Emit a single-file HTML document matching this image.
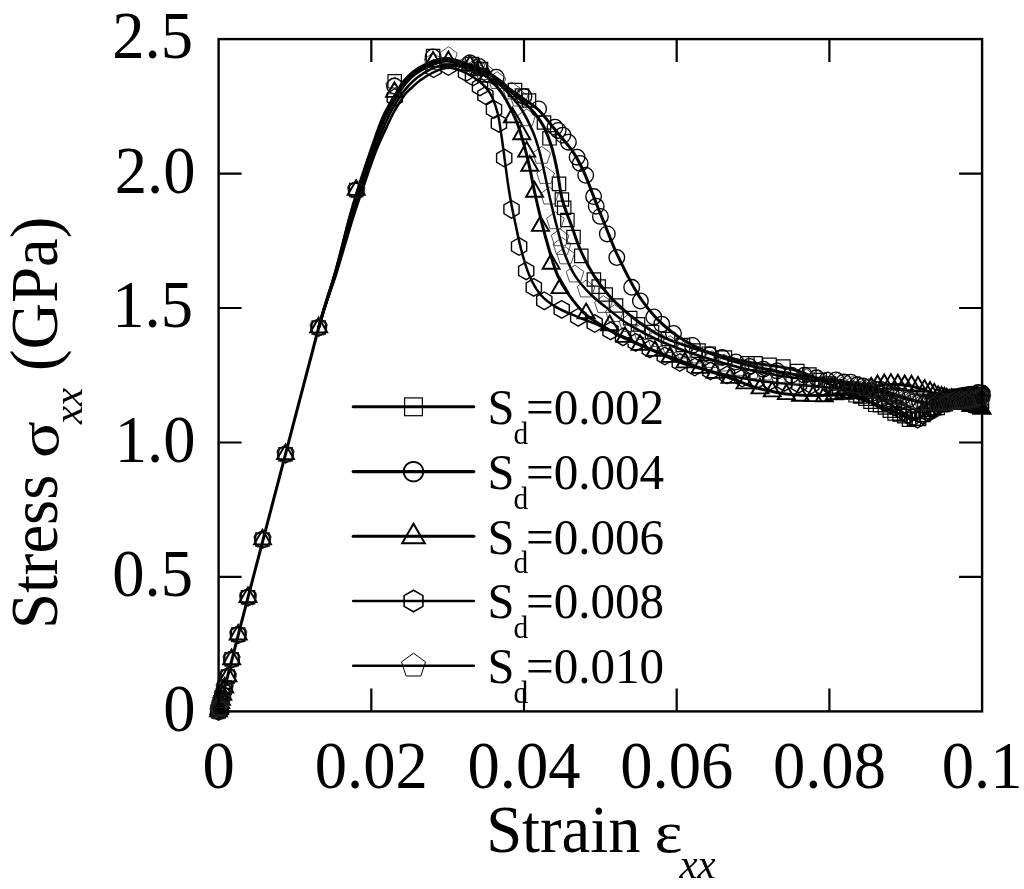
<!DOCTYPE html>
<html><head><meta charset="utf-8"><title>Stress-strain</title>
<style>
html,body{margin:0;padding:0;background:#fff;}
svg{display:block;}
text{font-family:"Liberation Serif","DejaVu Serif",serif;fill:#000;}
.it{font-style:italic;}
</style></head><body>
<svg width="1024" height="889" viewBox="0 0 1024 889">
<rect x="0" y="0" width="1024" height="889" fill="#fff"/>
<path d="M218.6 711.4C223.5 692.4 236.8 640.3 248.0 597.4C259.1 554.5 273.7 499.2 285.5 454.2C297.3 409.2 310.4 357.7 318.7 327.5C327.0 297.3 330.1 291.1 335.2 273.0C340.3 254.9 345.4 232.8 349.2 218.8C353.0 204.8 354.4 200.5 358.0 189.0C361.6 177.5 367.2 161.1 371.0 150.0C374.8 138.9 378.2 129.0 380.7 122.5C383.2 116.0 383.4 115.8 385.8 111.2C388.2 106.7 392.0 100.0 395.0 95.0C398.0 90.0 400.6 85.3 403.6 81.5C406.6 77.7 409.1 75.1 412.9 72.2C416.6 69.3 421.7 66.3 426.1 64.2C430.5 62.1 435.7 60.3 439.3 59.4C442.9 58.5 443.9 58.2 448.0 58.7C452.1 59.2 458.5 60.9 463.8 62.6C469.1 64.3 475.3 66.8 480.0 69.0C484.7 71.2 488.4 73.6 492.0 76.0C495.6 78.4 498.5 81.0 501.5 83.5C504.5 86.0 506.2 87.8 510.0 91.0C513.8 94.2 520.0 98.9 524.0 102.5C528.0 106.1 530.7 108.4 534.0 112.5C537.3 116.6 541.0 121.3 544.0 127.2C547.0 133.1 549.6 140.2 551.9 147.7C554.1 155.2 555.8 163.3 557.5 172.0C559.2 180.7 560.0 190.9 562.4 200.0C564.8 209.1 568.8 218.1 571.9 226.8C575.0 235.5 577.6 243.9 581.3 252.0C585.0 260.1 589.4 268.5 593.9 275.6C598.4 282.7 603.1 288.7 608.1 294.5C613.1 300.3 617.9 304.9 623.9 310.2C629.9 315.4 637.4 321.4 644.3 326.0C651.1 330.6 657.4 334.5 665.0 338.0C672.6 341.5 680.8 344.1 690.0 347.0C699.2 349.9 710.0 352.9 720.0 355.5C730.0 358.1 740.8 360.8 750.0 362.5C759.2 364.2 767.5 364.8 775.0 366.0C782.5 367.2 788.3 368.0 795.0 370.0C801.7 372.0 808.3 375.2 815.0 378.0C821.7 380.8 829.2 384.0 835.0 386.5C840.8 389.0 842.5 389.8 850.0 393.0C857.5 396.2 871.7 402.4 880.0 406.0C888.3 409.6 894.2 412.2 900.0 414.5C905.8 416.8 910.0 420.1 915.0 419.5C920.0 418.9 925.0 413.6 930.0 411.0C935.0 408.4 940.8 405.7 945.0 404.0C949.2 402.3 951.2 401.6 955.0 401.0C958.8 400.4 963.5 400.3 968.0 400.5C972.5 400.7 979.7 401.8 982.0 402.0" fill="none" stroke="#000" stroke-width="3.0" stroke-linejoin="round" stroke-linecap="round"/>
<path d="M218.0 680.9h13.4v13.4h-13.4zM216.1 688.3h13.4v13.4h-13.4zM214.9 693.2h13.4v13.4h-13.4zM214.0 696.5h13.4v13.4h-13.4zM213.4 698.7h13.4v13.4h-13.4zM213.1 700.2h13.4v13.4h-13.4zM212.8 701.2h13.4v13.4h-13.4zM212.6 701.8h13.4v13.4h-13.4zM212.5 702.2h13.4v13.4h-13.4zM212.5 702.5h13.4v13.4h-13.4zM211.9 704.7h13.4v13.4h-13.4zM221.2 669.8h13.4v13.4h-13.4zM224.9 652.6h13.4v13.4h-13.4zM231.5 627.9h13.4v13.4h-13.4zM241.3 590.5h13.4v13.4h-13.4zM255.8 532.8h13.4v13.4h-13.4zM278.8 447.5h13.4v13.4h-13.4zM312.0 320.8h13.4v13.4h-13.4zM349.5 183.3h13.4v13.4h-13.4zM388.0 74.6h13.4v13.4h-13.4zM426.4 49.3h13.4v13.4h-13.4zM465.3 57.3h13.4v13.4h-13.4zM474.3 62.3h13.4v13.4h-13.4zM508.3 83.3h13.4v13.4h-13.4zM515.3 88.8h13.4v13.4h-13.4zM522.3 93.8h13.4v13.4h-13.4zM537.3 115.8h13.4v13.4h-13.4zM542.8 131.6h13.4v13.4h-13.4zM552.3 177.2h13.4v13.4h-13.4zM555.2 192.8h13.4v13.4h-13.4zM557.5 201.1h13.4v13.4h-13.4zM560.7 213.3h13.4v13.4h-13.4zM566.8 230.3h13.4v13.4h-13.4zM574.6 249.2h13.4v13.4h-13.4zM587.2 272.8h13.4v13.4h-13.4zM592.0 279.9h13.4v13.4h-13.4zM599.0 287.8h13.4v13.4h-13.4zM609.3 298.8h13.4v13.4h-13.4zM623.5 311.4h13.4v13.4h-13.4zM631.3 317.7h13.4v13.4h-13.4zM645.3 325.3h13.4v13.4h-13.4zM661.3 332.3h13.4v13.4h-13.4zM676.3 338.3h13.4v13.4h-13.4zM691.8 343.9h13.4v13.4h-13.4zM702.0 347.0h13.4v13.4h-13.4zM718.2 350.8h13.4v13.4h-13.4zM740.7 356.7h13.4v13.4h-13.4zM748.7 356.7h13.4v13.4h-13.4zM762.8 358.1h13.4v13.4h-13.4zM776.7 359.8h13.4v13.4h-13.4zM790.6 364.4h13.4v13.4h-13.4zM802.7 367.9h13.4v13.4h-13.4zM813.1 373.4h13.4v13.4h-13.4zM822.2 376.8h13.4v13.4h-13.4zM830.3 379.6h13.4v13.4h-13.4zM837.2 383.7h13.4v13.4h-13.4zM843.3 385.2h13.4v13.4h-13.4zM848.9 388.6h13.4v13.4h-13.4zM853.7 389.8h13.4v13.4h-13.4zM858.8 392.0h13.4v13.4h-13.4zM863.8 395.0h13.4v13.4h-13.4zM868.6 398.1h13.4v13.4h-13.4zM873.3 398.4h13.4v13.4h-13.4zM878.2 400.8h13.4v13.4h-13.4zM883.1 403.9h13.4v13.4h-13.4zM887.9 406.7h13.4v13.4h-13.4zM892.9 407.8h13.4v13.4h-13.4zM897.5 409.4h13.4v13.4h-13.4zM902.3 413.0h13.4v13.4h-13.4zM907.3 411.8h13.4v13.4h-13.4zM912.3 412.3h13.4v13.4h-13.4zM916.7 408.2h13.4v13.4h-13.4zM920.7 405.0h13.4v13.4h-13.4zM924.2 402.9h13.4v13.4h-13.4zM927.5 401.7h13.4v13.4h-13.4zM930.9 401.3h13.4v13.4h-13.4zM933.7 398.5h13.4v13.4h-13.4zM936.3 398.3h13.4v13.4h-13.4zM938.9 397.4h13.4v13.4h-13.4zM941.1 395.9h13.4v13.4h-13.4zM943.4 395.5h13.4v13.4h-13.4zM945.7 393.7h13.4v13.4h-13.4zM948.3 393.2h13.4v13.4h-13.4zM950.6 393.3h13.4v13.4h-13.4zM953.0 394.3h13.4v13.4h-13.4zM955.6 393.6h13.4v13.4h-13.4zM958.2 393.3h13.4v13.4h-13.4zM960.8 394.0h13.4v13.4h-13.4zM963.4 393.8h13.4v13.4h-13.4zM965.6 393.6h13.4v13.4h-13.4zM968.0 395.1h13.4v13.4h-13.4zM970.2 395.1h13.4v13.4h-13.4zM972.8 394.4h13.4v13.4h-13.4zM975.0 395.4h13.4v13.4h-13.4zM975.3 395.3h13.4v13.4h-13.4z" fill="none" stroke="#000" stroke-width="1.2" stroke-linejoin="miter"/>
<path d="M318.7 327.5C327.0 297.3 330.2 291.1 335.3 273.0C340.5 254.9 345.7 232.8 349.6 218.8C353.4 204.8 354.8 200.5 358.5 189.0C362.1 177.5 367.7 161.1 371.5 150.0C375.4 138.9 379.0 129.0 381.5 122.5C384.0 116.0 384.3 115.8 386.7 111.2C389.1 106.7 393.0 99.9 395.9 95.0C398.9 90.1 401.5 85.8 404.4 82.1C407.4 78.4 409.9 75.9 413.6 73.0C417.3 70.2 422.3 67.2 426.7 65.1C431.0 63.0 436.1 61.2 439.7 60.3C443.3 59.4 444.3 59.1 448.4 59.6C452.5 60.2 459.2 62.0 464.5 63.5C469.8 65.0 475.4 66.6 480.0 68.5C484.6 70.4 488.4 72.8 492.0 75.0C495.6 77.2 498.6 79.6 501.6 82.0C504.6 84.4 506.3 86.5 510.2 89.5C514.1 92.5 520.5 96.6 525.2 100.0C529.9 103.4 533.1 104.4 538.6 110.0C544.1 115.6 552.6 126.7 558.2 133.5C563.8 140.3 568.2 144.7 572.4 150.9C576.6 157.1 580.2 164.1 583.4 170.8C586.6 177.5 589.0 184.6 591.5 191.0C594.0 197.4 596.0 202.7 598.5 209.0C601.0 215.3 603.6 221.6 606.5 228.8C609.4 236.0 612.3 243.9 616.0 252.0C619.7 260.1 624.6 270.0 628.6 277.6C632.6 285.2 635.9 291.3 640.0 297.5C644.1 303.7 649.5 310.3 653.5 315.0C657.5 319.7 659.9 321.9 664.0 325.5C668.1 329.1 672.8 333.0 678.0 336.5C683.2 340.0 689.1 343.4 695.4 346.6C701.7 349.8 707.3 352.5 716.0 355.6C724.7 358.7 736.8 362.3 747.5 365.0C758.2 367.7 769.6 370.0 780.0 372.0C790.4 374.0 800.0 375.4 810.0 377.0C820.0 378.6 830.0 379.8 840.0 381.5C850.0 383.2 860.0 384.6 870.0 387.0C880.0 389.4 890.8 393.3 900.0 396.0C909.2 398.7 917.5 402.4 925.0 403.0C932.5 403.6 938.3 400.7 945.0 399.5C951.7 398.3 958.8 397.1 965.0 396.0C971.2 394.9 979.2 393.5 982.0 393.0" fill="none" stroke="#000" stroke-width="3.0" stroke-linejoin="round" stroke-linecap="round"/>
<path d="M216.9 687.6a7.8 7.8 0 1 0 15.6 0a7.8 7.8 0 1 0 -15.6 0zM215.0 695.0a7.8 7.8 0 1 0 15.6 0a7.8 7.8 0 1 0 -15.6 0zM213.8 699.9a7.8 7.8 0 1 0 15.6 0a7.8 7.8 0 1 0 -15.6 0zM212.9 703.2a7.8 7.8 0 1 0 15.6 0a7.8 7.8 0 1 0 -15.6 0zM212.3 705.4a7.8 7.8 0 1 0 15.6 0a7.8 7.8 0 1 0 -15.6 0zM212.0 706.9a7.8 7.8 0 1 0 15.6 0a7.8 7.8 0 1 0 -15.6 0zM211.7 707.9a7.8 7.8 0 1 0 15.6 0a7.8 7.8 0 1 0 -15.6 0zM211.5 708.5a7.8 7.8 0 1 0 15.6 0a7.8 7.8 0 1 0 -15.6 0zM211.4 708.9a7.8 7.8 0 1 0 15.6 0a7.8 7.8 0 1 0 -15.6 0zM211.4 709.2a7.8 7.8 0 1 0 15.6 0a7.8 7.8 0 1 0 -15.6 0zM210.8 711.4a7.8 7.8 0 1 0 15.6 0a7.8 7.8 0 1 0 -15.6 0zM220.1 676.5a7.8 7.8 0 1 0 15.6 0a7.8 7.8 0 1 0 -15.6 0zM223.8 659.3a7.8 7.8 0 1 0 15.6 0a7.8 7.8 0 1 0 -15.6 0zM230.4 634.6a7.8 7.8 0 1 0 15.6 0a7.8 7.8 0 1 0 -15.6 0zM240.2 597.2a7.8 7.8 0 1 0 15.6 0a7.8 7.8 0 1 0 -15.6 0zM254.7 539.5a7.8 7.8 0 1 0 15.6 0a7.8 7.8 0 1 0 -15.6 0zM277.7 454.2a7.8 7.8 0 1 0 15.6 0a7.8 7.8 0 1 0 -15.6 0zM310.9 327.5a7.8 7.8 0 1 0 15.6 0a7.8 7.8 0 1 0 -15.6 0zM348.4 190.0a7.8 7.8 0 1 0 15.6 0a7.8 7.8 0 1 0 -15.6 0zM386.7 86.0a7.8 7.8 0 1 0 15.6 0a7.8 7.8 0 1 0 -15.6 0zM425.3 57.0a7.8 7.8 0 1 0 15.6 0a7.8 7.8 0 1 0 -15.6 0zM462.2 63.0a7.8 7.8 0 1 0 15.6 0a7.8 7.8 0 1 0 -15.6 0zM471.2 66.5a7.8 7.8 0 1 0 15.6 0a7.8 7.8 0 1 0 -15.6 0zM488.4 77.2a7.8 7.8 0 1 0 15.6 0a7.8 7.8 0 1 0 -15.6 0zM516.2 96.5a7.8 7.8 0 1 0 15.6 0a7.8 7.8 0 1 0 -15.6 0zM530.8 108.9a7.8 7.8 0 1 0 15.6 0a7.8 7.8 0 1 0 -15.6 0zM547.2 127.2a7.8 7.8 0 1 0 15.6 0a7.8 7.8 0 1 0 -15.6 0zM550.4 130.4a7.8 7.8 0 1 0 15.6 0a7.8 7.8 0 1 0 -15.6 0zM555.1 135.1a7.8 7.8 0 1 0 15.6 0a7.8 7.8 0 1 0 -15.6 0zM560.6 142.2a7.8 7.8 0 1 0 15.6 0a7.8 7.8 0 1 0 -15.6 0zM569.3 157.2a7.8 7.8 0 1 0 15.6 0a7.8 7.8 0 1 0 -15.6 0zM572.4 163.5a7.8 7.8 0 1 0 15.6 0a7.8 7.8 0 1 0 -15.6 0zM577.9 175.3a7.8 7.8 0 1 0 15.6 0a7.8 7.8 0 1 0 -15.6 0zM585.8 196.5a7.8 7.8 0 1 0 15.6 0a7.8 7.8 0 1 0 -15.6 0zM588.4 206.2a7.8 7.8 0 1 0 15.6 0a7.8 7.8 0 1 0 -15.6 0zM592.6 216.4a7.8 7.8 0 1 0 15.6 0a7.8 7.8 0 1 0 -15.6 0zM599.5 233.9a7.8 7.8 0 1 0 15.6 0a7.8 7.8 0 1 0 -15.6 0zM609.0 257.5a7.8 7.8 0 1 0 15.6 0a7.8 7.8 0 1 0 -15.6 0zM623.9 287.3a7.8 7.8 0 1 0 15.6 0a7.8 7.8 0 1 0 -15.6 0zM632.6 301.0a7.8 7.8 0 1 0 15.6 0a7.8 7.8 0 1 0 -15.6 0zM646.0 317.0a7.8 7.8 0 1 0 15.6 0a7.8 7.8 0 1 0 -15.6 0zM653.9 324.1a7.8 7.8 0 1 0 15.6 0a7.8 7.8 0 1 0 -15.6 0zM665.7 333.5a7.8 7.8 0 1 0 15.6 0a7.8 7.8 0 1 0 -15.6 0zM684.6 345.4a7.8 7.8 0 1 0 15.6 0a7.8 7.8 0 1 0 -15.6 0zM701.9 354.8a7.8 7.8 0 1 0 15.6 0a7.8 7.8 0 1 0 -15.6 0zM714.2 357.6a7.8 7.8 0 1 0 15.6 0a7.8 7.8 0 1 0 -15.6 0zM728.0 361.9a7.8 7.8 0 1 0 15.6 0a7.8 7.8 0 1 0 -15.6 0zM741.6 366.4a7.8 7.8 0 1 0 15.6 0a7.8 7.8 0 1 0 -15.6 0zM755.5 369.2a7.8 7.8 0 1 0 15.6 0a7.8 7.8 0 1 0 -15.6 0zM769.3 370.9a7.8 7.8 0 1 0 15.6 0a7.8 7.8 0 1 0 -15.6 0zM783.4 375.2a7.8 7.8 0 1 0 15.6 0a7.8 7.8 0 1 0 -15.6 0zM796.7 375.2a7.8 7.8 0 1 0 15.6 0a7.8 7.8 0 1 0 -15.6 0zM808.7 377.8a7.8 7.8 0 1 0 15.6 0a7.8 7.8 0 1 0 -15.6 0zM819.2 380.1a7.8 7.8 0 1 0 15.6 0a7.8 7.8 0 1 0 -15.6 0zM828.2 380.0a7.8 7.8 0 1 0 15.6 0a7.8 7.8 0 1 0 -15.6 0zM836.1 382.1a7.8 7.8 0 1 0 15.6 0a7.8 7.8 0 1 0 -15.6 0zM843.0 382.2a7.8 7.8 0 1 0 15.6 0a7.8 7.8 0 1 0 -15.6 0zM849.4 384.8a7.8 7.8 0 1 0 15.6 0a7.8 7.8 0 1 0 -15.6 0zM855.3 386.1a7.8 7.8 0 1 0 15.6 0a7.8 7.8 0 1 0 -15.6 0zM861.2 386.9a7.8 7.8 0 1 0 15.6 0a7.8 7.8 0 1 0 -15.6 0zM867.1 389.2a7.8 7.8 0 1 0 15.6 0a7.8 7.8 0 1 0 -15.6 0zM872.6 389.4a7.8 7.8 0 1 0 15.6 0a7.8 7.8 0 1 0 -15.6 0zM878.0 392.0a7.8 7.8 0 1 0 15.6 0a7.8 7.8 0 1 0 -15.6 0zM883.4 393.5a7.8 7.8 0 1 0 15.6 0a7.8 7.8 0 1 0 -15.6 0zM889.0 395.2a7.8 7.8 0 1 0 15.6 0a7.8 7.8 0 1 0 -15.6 0zM894.9 396.7a7.8 7.8 0 1 0 15.6 0a7.8 7.8 0 1 0 -15.6 0zM900.6 399.5a7.8 7.8 0 1 0 15.6 0a7.8 7.8 0 1 0 -15.6 0zM906.1 401.6a7.8 7.8 0 1 0 15.6 0a7.8 7.8 0 1 0 -15.6 0zM911.8 402.1a7.8 7.8 0 1 0 15.6 0a7.8 7.8 0 1 0 -15.6 0zM917.2 403.4a7.8 7.8 0 1 0 15.6 0a7.8 7.8 0 1 0 -15.6 0zM922.0 401.9a7.8 7.8 0 1 0 15.6 0a7.8 7.8 0 1 0 -15.6 0zM926.1 402.7a7.8 7.8 0 1 0 15.6 0a7.8 7.8 0 1 0 -15.6 0zM929.9 401.6a7.8 7.8 0 1 0 15.6 0a7.8 7.8 0 1 0 -15.6 0zM933.3 401.6a7.8 7.8 0 1 0 15.6 0a7.8 7.8 0 1 0 -15.6 0zM936.2 400.5a7.8 7.8 0 1 0 15.6 0a7.8 7.8 0 1 0 -15.6 0zM938.7 398.7a7.8 7.8 0 1 0 15.6 0a7.8 7.8 0 1 0 -15.6 0zM941.2 398.5a7.8 7.8 0 1 0 15.6 0a7.8 7.8 0 1 0 -15.6 0zM943.8 398.7a7.8 7.8 0 1 0 15.6 0a7.8 7.8 0 1 0 -15.6 0zM946.4 396.8a7.8 7.8 0 1 0 15.6 0a7.8 7.8 0 1 0 -15.6 0zM948.9 397.4a7.8 7.8 0 1 0 15.6 0a7.8 7.8 0 1 0 -15.6 0zM951.4 396.2a7.8 7.8 0 1 0 15.6 0a7.8 7.8 0 1 0 -15.6 0zM953.9 395.7a7.8 7.8 0 1 0 15.6 0a7.8 7.8 0 1 0 -15.6 0zM956.3 395.1a7.8 7.8 0 1 0 15.6 0a7.8 7.8 0 1 0 -15.6 0zM958.9 396.4a7.8 7.8 0 1 0 15.6 0a7.8 7.8 0 1 0 -15.6 0zM961.2 394.4a7.8 7.8 0 1 0 15.6 0a7.8 7.8 0 1 0 -15.6 0zM963.5 394.3a7.8 7.8 0 1 0 15.6 0a7.8 7.8 0 1 0 -15.6 0zM965.8 394.2a7.8 7.8 0 1 0 15.6 0a7.8 7.8 0 1 0 -15.6 0zM968.0 395.0a7.8 7.8 0 1 0 15.6 0a7.8 7.8 0 1 0 -15.6 0zM970.5 392.6a7.8 7.8 0 1 0 15.6 0a7.8 7.8 0 1 0 -15.6 0zM973.0 393.1a7.8 7.8 0 1 0 15.6 0a7.8 7.8 0 1 0 -15.6 0zM974.2 393.0a7.8 7.8 0 1 0 15.6 0a7.8 7.8 0 1 0 -15.6 0z" fill="none" stroke="#000" stroke-width="1.35" stroke-linejoin="miter"/>
<path d="M318.7 327.5C327.0 297.3 330.3 291.1 335.6 273.0C340.8 254.9 346.2 232.8 350.1 218.8C354.1 204.8 355.6 200.5 359.3 189.0C363.0 177.5 368.5 161.1 372.5 150.0C376.4 138.9 380.3 129.0 382.9 122.5C385.5 116.0 385.7 115.8 388.1 111.2C390.6 106.7 394.6 99.7 397.6 95.0C400.5 90.3 403.0 86.5 405.9 83.1C408.7 79.7 411.2 77.2 414.8 74.4C418.5 71.7 423.4 68.7 427.7 66.6C431.9 64.5 436.7 62.8 440.3 61.9C443.9 61.0 445.1 60.6 449.1 61.2C453.0 61.8 458.3 63.4 464.0 65.5C469.7 67.6 477.1 69.5 483.4 74.0C489.6 78.5 496.1 85.0 501.5 92.6C506.9 100.2 512.0 111.0 515.7 119.4C519.4 127.8 521.1 134.9 523.5 143.0C525.9 151.1 527.9 160.0 529.8 168.2C531.6 176.4 532.6 182.8 534.6 192.0C536.6 201.2 539.5 213.6 542.0 223.6C544.5 233.6 547.2 243.3 549.8 252.0C552.4 260.7 554.6 268.5 557.7 275.6C560.9 282.7 564.2 288.2 568.7 294.5C573.2 300.8 579.2 308.4 584.5 313.4C589.8 318.4 595.0 321.0 600.2 324.4C605.5 327.8 609.4 330.5 616.0 333.9C622.6 337.3 631.0 341.1 640.0 345.0C649.0 348.9 660.0 353.2 670.0 357.0C680.0 360.8 690.0 364.5 700.0 368.0C710.0 371.5 721.0 374.8 730.0 378.0C739.0 381.2 747.3 384.8 754.0 387.0C760.7 389.2 764.7 389.8 770.0 391.0C775.3 392.2 777.7 393.2 786.0 394.0C794.3 394.8 809.3 395.6 820.0 395.5C830.7 395.4 842.0 394.5 850.0 393.5C858.0 392.5 863.0 390.8 868.0 389.5C873.0 388.2 875.5 386.3 880.0 385.5C884.5 384.7 889.8 384.4 895.0 384.5C900.2 384.6 905.2 384.8 911.0 386.0C916.8 387.2 923.5 389.8 930.0 392.0C936.5 394.2 943.7 397.3 950.0 399.5C956.3 401.7 962.7 403.4 968.0 405.0C973.3 406.6 979.7 408.3 982.0 409.0" fill="none" stroke="#000" stroke-width="3.0" stroke-linejoin="round" stroke-linecap="round"/>
<path d="M224.7 677.8L233.2 692.5L216.3 692.5zM222.8 685.2L231.3 699.9L214.3 699.9zM221.6 690.1L230.0 704.8L213.1 704.8zM220.7 693.4L229.2 708.1L212.2 708.1zM220.1 695.6L228.6 710.3L211.7 710.3zM219.8 697.1L228.3 711.8L211.3 711.8zM219.5 698.1L228.0 712.8L211.0 712.8zM219.3 698.7L227.8 713.4L210.9 713.4zM219.2 699.1L227.7 713.8L210.7 713.8zM219.2 699.4L227.6 714.1L210.7 714.1zM218.6 701.6L227.1 716.3L210.1 716.3zM227.9 666.7L236.4 681.4L219.4 681.4zM231.6 649.5L240.1 664.2L223.1 664.2zM238.2 624.8L246.7 639.5L229.7 639.5zM248.0 587.4L256.5 602.1L239.5 602.1zM262.5 529.7L271.0 544.4L254.0 544.4zM285.5 444.4L294.0 459.1L277.0 459.1zM318.7 317.7L327.2 332.4L310.2 332.4zM356.2 180.2L364.7 194.9L347.7 194.9zM394.5 82.2L403.0 96.9L386.0 96.9zM433.1 52.0L441.6 66.7L424.6 66.7zM448.4 51.5L456.9 66.2L439.9 66.2zM470.0 55.7L478.5 70.4L461.5 70.4zM479.0 60.2L487.5 74.9L470.5 74.9zM487.0 67.2L495.5 81.9L478.5 81.9zM512.4 107.7L520.9 122.4L503.9 122.4zM521.8 124.5L530.3 139.2L513.3 139.2zM526.7 141.9L535.2 156.6L518.2 156.6zM529.8 156.0L538.3 170.7L521.3 170.7zM534.6 182.0L543.1 196.7L526.1 196.7zM540.4 216.2L548.9 230.9L531.9 230.9zM551.1 254.0L559.6 268.7L542.6 268.7zM560.1 278.4L568.6 293.1L551.6 293.1zM586.1 303.6L594.6 318.3L577.6 318.3zM609.7 315.6L618.2 330.3L601.2 330.3zM625.0 327.2L633.5 341.9L616.5 341.9zM640.0 335.2L648.5 349.9L631.5 349.9zM655.0 341.2L663.5 355.9L646.5 355.9zM670.0 347.2L678.5 361.9L661.5 361.9zM685.0 352.7L693.5 367.4L676.5 367.4zM700.0 358.2L708.5 372.9L691.5 372.9zM715.0 363.2L723.5 377.9L706.5 377.9zM730.0 368.2L738.5 382.9L721.5 382.9zM745.0 373.7L753.5 388.4L736.5 388.4zM760.0 378.7L768.5 393.4L751.5 393.4zM772.3 381.7L780.8 396.4L763.8 396.4zM786.4 384.4L794.9 399.1L777.9 399.1zM800.5 386.1L809.0 400.8L792.0 400.8zM813.0 386.4L821.4 401.1L804.5 401.1zM824.3 386.5L832.8 401.2L815.8 401.2zM834.4 384.6L842.9 399.3L826.0 399.3zM843.4 384.2L851.9 398.9L835.0 398.9zM851.3 383.2L859.8 397.9L842.8 397.9zM858.1 383.2L866.6 397.9L849.7 397.9zM864.6 381.7L873.1 396.4L856.1 396.4zM871.2 377.8L879.7 392.5L862.7 392.5zM877.5 375.5L886.0 390.2L869.0 390.2zM884.2 374.5L892.7 389.2L875.8 389.2zM890.9 374.1L899.3 388.8L882.4 388.8zM897.9 374.7L906.4 389.4L889.4 389.4zM904.7 375.4L913.2 390.1L896.2 390.1zM911.5 375.7L919.9 390.4L903.0 390.4zM918.0 376.9L926.5 391.6L909.6 391.6zM924.5 380.1L933.0 394.8L916.0 394.8zM930.0 381.9L938.5 396.6L921.5 396.6zM934.3 383.9L942.7 398.6L925.8 398.6zM938.1 386.3L946.6 401.0L929.6 401.0zM941.5 387.0L950.0 401.7L933.0 401.7zM944.4 387.7L952.9 402.4L935.9 402.4zM946.8 388.8L955.3 403.5L938.3 403.5zM949.1 389.8L957.6 404.5L940.6 404.5zM951.5 389.1L960.0 403.8L943.1 403.8zM954.1 392.0L962.6 406.7L945.6 406.7zM956.6 392.5L965.1 407.2L948.1 407.2zM959.1 393.5L967.6 408.2L950.6 408.2zM961.6 394.0L970.1 408.7L953.1 408.7zM963.9 393.8L972.4 408.5L955.5 408.5zM966.2 394.4L974.7 409.1L957.7 409.1zM968.6 394.4L977.0 409.1L960.1 409.1zM970.8 396.3L979.3 411.0L962.3 411.0zM973.1 395.6L981.6 410.3L964.6 410.3zM975.3 396.3L983.8 411.0L966.8 411.0zM977.9 397.3L986.4 412.0L969.4 412.0zM980.1 397.8L988.6 412.5L971.6 412.5zM982.0 399.2L990.5 413.9L973.5 413.9z" fill="none" stroke="#000" stroke-width="1.9" stroke-linejoin="miter"/>
<path d="M318.7 327.5C327.2 297.3 330.8 291.1 336.5 273.0C342.2 254.9 348.3 232.8 352.7 218.8C357.1 204.8 358.8 200.5 362.7 189.0C366.6 177.5 372.0 161.1 376.4 150.0C380.8 138.9 385.8 129.0 388.8 122.5C391.8 116.0 391.8 115.8 394.4 111.2C397.0 106.7 401.6 99.0 404.5 95.0C407.4 91.0 409.4 89.9 412.0 87.5C414.6 85.1 416.7 82.9 420.0 80.5C423.3 78.1 428.2 75.0 432.0 73.0C435.8 71.0 439.7 69.4 443.0 68.6C446.3 67.8 448.2 67.3 452.0 68.0C455.8 68.7 461.3 70.7 466.0 73.0C470.7 75.3 475.9 78.5 480.0 82.0C484.1 85.5 487.6 88.8 490.5 94.0C493.4 99.2 495.9 106.7 497.6 113.0C499.3 119.3 499.7 124.4 500.9 132.0C502.1 139.6 503.4 149.7 504.6 158.7C505.8 167.7 507.1 178.1 508.3 186.0C509.5 193.9 510.4 199.2 511.7 206.0C513.0 212.8 514.4 219.1 516.0 226.6C517.6 234.1 519.3 242.6 521.5 250.8C523.7 259.0 526.2 268.3 529.4 275.6C532.5 282.9 535.9 289.2 540.4 294.5C544.9 299.8 549.8 303.3 556.1 307.1C562.4 310.9 570.9 314.0 578.2 317.1C585.6 320.2 592.6 322.7 600.2 326.0C607.8 329.3 615.6 333.2 623.9 337.0C632.2 340.8 640.6 344.8 650.0 349.0C659.4 353.2 670.0 358.8 680.0 362.5C690.0 366.2 702.2 368.9 710.0 371.0C717.8 373.1 718.7 373.3 727.0 375.0C735.3 376.7 747.8 379.3 760.0 381.0C772.2 382.7 785.0 383.5 800.0 385.0C815.0 386.5 836.7 387.7 850.0 390.0C863.3 392.3 871.7 395.6 880.0 399.0C888.3 402.4 894.2 407.2 900.0 410.5C905.8 413.8 910.8 417.9 915.0 418.5C919.2 419.1 920.8 416.3 925.0 414.0C929.2 411.7 935.0 406.9 940.0 404.5C945.0 402.1 950.0 400.8 955.0 399.5C960.0 398.2 965.5 397.2 970.0 396.5C974.5 395.8 980.0 395.2 982.0 395.0" fill="none" stroke="#000" stroke-width="2.5" stroke-linejoin="round" stroke-linecap="round"/>
<path d="M224.7 678.8L232.4 683.2L232.4 692.0L224.7 696.4L217.1 692.0L217.1 683.2zM222.8 686.2L230.5 690.6L230.5 699.4L222.8 703.8L215.2 699.4L215.2 690.6zM221.6 691.1L229.2 695.5L229.2 704.3L221.6 708.7L213.9 704.3L213.9 695.5zM220.7 694.4L228.3 698.8L228.3 707.6L220.7 712.0L213.1 707.6L213.1 698.8zM220.1 696.6L227.8 701.0L227.8 709.8L220.1 714.2L212.5 709.8L212.5 701.0zM219.8 698.1L227.4 702.5L227.4 711.3L219.8 715.7L212.1 711.3L212.1 702.5zM219.5 699.1L227.1 703.5L227.1 712.3L219.5 716.7L211.9 712.3L211.9 703.5zM219.3 699.7L227.0 704.1L227.0 712.9L219.3 717.3L211.7 712.9L211.7 704.1zM219.2 700.1L226.9 704.5L226.9 713.3L219.2 717.7L211.6 713.3L211.6 704.5zM219.2 700.4L226.8 704.8L226.8 713.6L219.2 718.0L211.5 713.6L211.5 704.8zM218.6 702.6L226.2 707.0L226.2 715.8L218.6 720.2L211.0 715.8L211.0 707.0zM227.9 667.7L235.5 672.1L235.5 680.9L227.9 685.3L220.3 680.9L220.3 672.1zM231.6 650.5L239.2 654.9L239.2 663.7L231.6 668.1L224.0 663.7L224.0 654.9zM238.2 625.8L245.8 630.2L245.8 639.0L238.2 643.4L230.6 639.0L230.6 630.2zM248.0 588.4L255.6 592.8L255.6 601.6L248.0 606.0L240.4 601.6L240.4 592.8zM262.5 530.7L270.1 535.1L270.1 543.9L262.5 548.3L254.9 543.9L254.9 535.1zM285.5 445.4L293.1 449.8L293.1 458.6L285.5 463.0L277.9 458.6L277.9 449.8zM318.7 318.7L326.3 323.1L326.3 331.9L318.7 336.3L311.1 331.9L311.1 323.1zM356.2 181.2L363.8 185.6L363.8 194.4L356.2 198.8L348.6 194.4L348.6 185.6zM394.8 88.7L402.4 93.1L402.4 101.9L394.8 106.3L387.2 101.9L387.2 93.1zM433.6 59.9L441.2 64.3L441.2 73.1L433.6 77.5L426.0 73.1L426.0 64.3zM448.4 57.7L456.0 62.1L456.0 70.9L448.4 75.3L440.8 70.9L440.8 62.1zM466.0 63.7L473.6 68.1L473.6 76.9L466.0 81.3L458.4 76.9L458.4 68.1zM473.0 68.2L480.6 72.6L480.6 81.4L473.0 85.8L465.4 81.4L465.4 72.6zM480.0 78.1L487.6 82.5L487.6 91.3L480.0 95.7L472.4 91.3L472.4 82.5zM485.4 86.7L493.0 91.1L493.0 99.9L485.4 104.3L477.8 99.9L477.8 91.1zM494.0 100.6L501.6 105.0L501.6 113.8L494.0 118.2L486.4 113.8L486.4 105.0zM498.9 114.6L506.5 119.0L506.5 127.8L498.9 132.2L491.3 127.8L491.3 119.0zM504.2 149.2L511.8 153.6L511.8 162.4L504.2 166.8L496.6 162.4L496.6 153.6zM511.5 200.5L519.1 204.9L519.1 213.7L511.5 218.1L503.9 213.7L503.9 204.9zM519.1 237.7L526.7 242.1L526.7 250.9L519.1 255.3L511.5 250.9L511.5 242.1zM526.2 262.1L533.8 266.5L533.8 275.3L526.2 279.7L518.6 275.3L518.6 266.5zM533.8 278.6L541.4 283.0L541.4 291.8L533.8 296.2L526.2 291.8L526.2 283.0zM544.3 292.0L551.9 296.4L551.9 305.2L544.3 309.6L536.7 305.2L536.7 296.4zM561.7 300.6L569.3 305.0L569.3 313.8L561.7 318.2L554.1 313.8L554.1 305.0zM578.2 308.5L585.8 312.9L585.8 321.7L578.2 326.1L570.6 321.7L570.6 312.9zM594.7 314.7L602.3 319.1L602.3 327.9L594.7 332.3L587.1 327.9L587.1 319.1zM610.5 322.1L618.1 326.5L618.1 335.3L610.5 339.7L602.9 335.3L602.9 326.5zM623.0 328.0L630.6 332.4L630.6 341.2L623.0 345.6L615.4 341.2L615.4 332.4zM635.7 333.6L643.3 338.0L643.3 346.8L635.7 351.2L628.1 346.8L628.1 338.0zM649.8 340.2L657.4 344.6L657.4 353.4L649.8 357.8L642.2 353.4L642.2 344.6zM664.8 347.2L672.4 351.6L672.4 360.4L664.8 364.8L657.2 360.4L657.2 351.6zM679.8 353.7L687.4 358.1L687.4 366.9L679.8 371.3L672.2 366.9L672.2 358.1zM694.7 358.2L702.3 362.6L702.3 371.4L694.7 375.8L687.1 371.4L687.1 362.6zM710.5 362.2L718.1 366.6L718.1 375.4L710.5 379.8L702.9 375.4L702.9 366.6zM727.0 366.2L734.6 370.6L734.6 379.4L727.0 383.8L719.4 379.4L719.4 370.6zM742.3 369.2L749.9 373.6L749.9 382.4L742.3 386.8L734.7 382.4L734.7 373.6zM756.2 371.3L763.8 375.7L763.8 384.5L756.2 388.9L748.6 384.5L748.6 375.7zM770.2 372.3L777.8 376.7L777.8 385.5L770.2 389.9L762.6 385.5L762.6 376.7zM784.5 373.6L792.1 378.0L792.1 386.8L784.5 391.2L776.8 386.8L776.8 378.0zM798.9 375.3L806.5 379.7L806.5 388.5L798.9 392.9L791.3 388.5L791.3 379.7zM811.2 376.2L818.8 380.6L818.8 389.4L811.2 393.8L803.6 389.4L803.6 380.6zM822.4 377.8L830.0 382.2L830.0 391.0L822.4 395.4L814.8 391.0L814.8 382.2zM832.0 377.8L839.6 382.2L839.6 391.0L832.0 395.4L824.4 391.0L824.4 382.2zM840.1 380.7L847.8 385.1L847.8 393.9L840.1 398.3L832.5 393.9L832.5 385.1zM847.5 381.1L855.1 385.5L855.1 394.3L847.5 398.7L839.9 394.3L839.9 385.5zM853.7 381.1L861.4 385.5L861.4 394.3L853.7 398.7L846.1 394.3L846.1 385.5zM859.4 382.6L867.0 387.0L867.0 395.8L859.4 400.2L851.8 395.8L851.8 387.0zM864.5 384.2L872.1 388.6L872.1 397.4L864.5 401.8L856.9 397.4L856.9 388.6zM869.6 385.9L877.2 390.3L877.2 399.1L869.6 403.5L862.0 399.1L862.0 390.3zM874.7 387.2L882.3 391.6L882.3 400.4L874.7 404.8L867.1 400.4L867.1 391.6zM879.6 390.9L887.2 395.3L887.2 404.1L879.6 408.5L872.0 404.1L872.0 395.3zM884.6 393.5L892.2 397.9L892.2 406.7L884.6 411.1L877.0 406.7L877.0 397.9zM889.2 394.9L896.8 399.3L896.8 408.1L889.2 412.5L881.6 408.1L881.6 399.3zM893.8 397.8L901.4 402.2L901.4 411.0L893.8 415.4L886.2 411.0L886.2 402.2zM898.5 399.8L906.1 404.2L906.1 413.0L898.5 417.4L890.9 413.0L890.9 404.2zM903.0 402.5L910.6 406.9L910.6 415.7L903.0 420.1L895.4 415.7L895.4 406.9zM907.7 406.1L915.3 410.5L915.3 419.3L907.7 423.7L900.1 419.3L900.1 410.5zM912.3 408.4L919.9 412.8L919.9 421.6L912.3 426.0L904.7 421.6L904.7 412.8zM917.6 410.4L925.2 414.8L925.2 423.6L917.6 428.0L910.0 423.6L910.0 414.8zM922.4 406.1L930.0 410.5L930.0 419.3L922.4 423.7L914.8 419.3L914.8 410.5zM926.5 403.2L934.1 407.6L934.1 416.4L926.5 420.8L918.9 416.4L918.9 407.6zM930.2 402.9L937.8 407.3L937.8 416.1L930.2 420.5L922.6 416.1L922.6 407.3zM933.8 399.5L941.4 403.9L941.4 412.7L933.8 417.1L926.1 412.7L926.1 403.9zM936.9 396.5L944.5 400.9L944.5 409.7L936.9 414.1L929.3 409.7L929.3 400.9zM940.0 395.8L947.6 400.2L947.6 409.0L940.0 413.4L932.4 409.0L932.4 400.2zM942.9 393.3L950.5 397.7L950.5 406.5L942.9 410.9L935.3 406.5L935.3 397.7zM945.3 393.6L952.9 398.0L952.9 406.8L945.3 411.2L937.7 406.8L937.7 398.0zM947.7 393.9L955.4 398.3L955.4 407.1L947.7 411.5L940.1 407.1L940.1 398.3zM950.2 392.9L957.8 397.3L957.8 406.1L950.2 410.5L942.5 406.1L942.5 397.3zM952.6 391.8L960.2 396.2L960.2 405.0L952.6 409.4L945.0 405.0L945.0 396.2zM955.0 390.1L962.6 394.5L962.6 403.3L955.0 407.7L947.4 403.3L947.4 394.5zM957.5 389.7L965.2 394.1L965.2 402.9L957.5 407.3L949.9 402.9L949.9 394.1zM960.1 388.7L967.7 393.1L967.7 401.9L960.1 406.3L952.5 401.9L952.5 393.1zM962.7 389.6L970.3 394.0L970.3 402.8L962.7 407.2L955.1 402.8L955.1 394.0zM965.2 388.6L972.8 393.0L972.8 401.8L965.2 406.2L957.6 401.8L957.6 393.0zM967.7 388.8L975.3 393.2L975.3 402.0L967.7 406.4L960.1 402.0L960.1 393.2zM970.0 387.3L977.6 391.7L977.6 400.5L970.0 404.9L962.4 400.5L962.4 391.7zM972.3 386.7L979.9 391.1L979.9 399.9L972.3 404.3L964.7 399.9L964.7 391.1zM974.7 387.8L982.3 392.2L982.3 401.0L974.7 405.4L967.0 401.0L967.0 392.2zM976.9 387.9L984.6 392.3L984.6 401.1L976.9 405.5L969.3 401.1L969.3 392.3zM979.5 387.3L987.1 391.7L987.1 400.5L979.5 404.9L971.8 400.5L971.8 391.7zM981.7 387.0L989.4 391.4L989.4 400.2L981.7 404.6L974.1 400.2L974.1 391.4zM982.0 386.2L989.6 390.6L989.6 399.4L982.0 403.8L974.4 399.4L974.4 390.6z" fill="none" stroke="#000" stroke-width="1.4" stroke-linejoin="miter"/>
<path d="M318.7 327.5C327.1 297.3 330.6 291.1 336.0 273.0C341.5 254.9 347.2 232.8 351.4 218.8C355.6 204.8 357.1 200.5 361.0 189.0C364.8 177.5 370.3 161.1 374.4 150.0C378.5 138.9 383.0 129.0 385.8 122.5C388.6 116.0 388.7 115.8 391.2 111.2C393.7 106.7 398.0 99.3 401.0 95.0C403.9 90.7 406.2 88.2 408.9 85.3C411.6 82.4 413.9 80.0 417.4 77.4C420.9 74.8 425.8 71.8 429.8 69.7C433.9 67.7 438.2 66.1 441.6 65.2C445.1 64.3 446.5 64.2 450.5 64.6C454.6 64.9 460.5 65.8 466.0 67.5C471.5 69.2 477.7 72.1 483.4 75.0C489.1 77.9 495.3 81.3 500.0 85.0C504.7 88.7 508.0 92.8 511.7 97.0C515.4 101.2 518.5 104.2 522.0 110.0C525.5 115.8 530.1 125.2 533.0 132.0C535.9 138.8 537.3 143.8 539.3 150.9C541.3 158.0 543.0 166.4 544.8 174.5C546.6 182.6 548.4 191.5 550.3 199.7C552.2 207.9 553.8 214.9 556.1 223.6C558.4 232.3 560.9 243.3 564.0 252.0C567.1 260.7 570.5 268.5 575.0 275.6C579.5 282.7 585.0 288.7 590.8 294.5C596.6 300.3 603.4 305.2 609.7 310.2C616.0 315.2 620.2 319.3 628.6 324.4C637.0 329.5 648.1 335.7 660.0 341.0C671.9 346.3 685.0 351.2 700.0 356.0C715.0 360.8 733.3 366.2 750.0 370.0C766.7 373.8 783.3 376.2 800.0 378.5C816.7 380.8 836.7 381.9 850.0 384.0C863.3 386.1 870.8 388.5 880.0 391.0C889.2 393.5 896.7 397.1 905.0 399.0C913.3 400.9 921.7 402.2 930.0 402.5C938.3 402.8 946.3 401.8 955.0 401.0C963.7 400.2 977.5 398.5 982.0 398.0" fill="none" stroke="#000" stroke-width="2.5" stroke-linejoin="round" stroke-linecap="round"/>
<path d="M224.7 678.3L233.6 684.7L230.2 695.1L219.3 695.1L215.9 684.7zM222.8 685.7L231.7 692.1L228.3 702.5L217.4 702.5L214.0 692.1zM221.6 690.6L230.4 697.1L227.0 707.5L216.1 707.5L212.7 697.1zM220.7 693.9L229.6 700.3L226.2 710.7L215.2 710.7L211.9 700.3zM220.1 696.1L229.0 702.5L225.6 712.9L214.7 712.9L211.3 702.5zM219.8 697.6L228.6 704.0L225.2 714.4L214.3 714.4L210.9 704.0zM219.5 698.6L228.4 705.0L225.0 715.4L214.0 715.4L210.7 705.0zM219.3 699.2L228.2 705.6L224.8 716.0L213.9 716.0L210.5 705.6zM219.2 699.6L228.1 706.1L224.7 716.5L213.8 716.5L210.4 706.1zM219.2 699.9L228.0 706.3L224.6 716.7L213.7 716.7L210.3 706.3zM218.6 702.1L227.4 708.5L224.1 718.9L213.1 718.9L209.8 708.5zM227.9 667.2L236.7 673.6L233.4 684.0L222.4 684.0L219.1 673.6zM231.6 650.0L240.4 656.4L237.1 666.8L226.1 666.8L222.8 656.4zM238.2 625.3L247.0 631.7L243.7 642.1L232.7 642.1L229.4 631.7zM248.0 587.9L256.8 594.3L253.5 604.7L242.5 604.7L239.2 594.3zM262.5 530.2L271.3 536.6L268.0 547.0L257.0 547.0L253.7 536.6zM285.5 444.9L294.3 451.3L291.0 461.7L280.0 461.7L276.7 451.3zM318.7 318.2L327.5 324.6L324.2 335.0L313.2 335.0L309.9 324.6zM356.2 180.7L365.0 187.1L361.7 197.5L350.7 197.5L347.4 187.1zM394.7 77.0L403.5 83.4L400.2 93.8L389.2 93.8L385.9 83.4zM433.1 52.7L441.9 59.1L438.6 69.5L427.6 69.5L424.3 59.1zM448.4 46.7L457.2 53.1L453.9 63.5L442.9 63.5L439.6 53.1zM468.0 54.7L476.8 61.1L473.5 71.5L462.5 71.5L459.2 61.1zM476.0 58.2L484.8 64.6L481.5 75.0L470.5 75.0L467.2 64.6zM484.0 62.7L492.8 69.1L489.5 79.5L478.5 79.5L475.2 69.1zM497.0 71.7L505.8 78.1L502.5 88.5L491.5 88.5L488.2 78.1zM511.7 82.1L520.5 88.5L517.2 98.9L506.2 98.9L502.9 88.5zM519.0 89.2L527.8 95.6L524.5 106.0L513.5 106.0L510.2 95.6zM526.7 108.9L535.5 115.3L532.2 125.7L521.2 125.7L517.9 115.3zM541.7 146.4L550.5 152.8L547.2 163.2L536.2 163.2L532.9 152.8zM545.6 166.6L554.4 173.0L551.1 183.4L540.1 183.4L536.8 173.0zM549.5 187.2L558.3 193.6L555.0 204.0L544.0 204.0L540.7 193.6zM555.4 211.9L564.2 218.3L560.9 228.7L549.9 228.7L546.6 218.3zM560.1 228.9L568.9 235.3L565.6 245.7L554.6 245.7L551.3 235.3zM562.0 237.5L570.8 243.9L567.5 254.3L556.5 254.3L553.2 243.9zM565.6 247.0L574.4 253.4L571.1 263.8L560.1 263.8L556.8 253.4zM575.0 265.1L583.8 271.5L580.5 281.9L569.5 281.9L566.2 271.5zM586.1 280.1L594.9 286.5L591.6 296.9L580.6 296.9L577.3 286.5zM603.4 295.6L612.2 302.0L608.9 312.4L597.9 312.4L594.6 302.0zM614.4 304.7L623.2 311.1L619.9 321.5L608.9 321.5L605.6 311.1zM628.0 314.7L636.8 321.1L633.5 331.5L622.5 331.5L619.2 321.1zM642.0 322.7L650.8 329.1L647.5 339.5L636.5 339.5L633.2 329.1zM656.0 329.7L664.8 336.1L661.5 346.5L650.5 346.5L647.2 336.1zM670.0 335.7L678.8 342.1L675.5 352.5L664.5 352.5L661.2 342.1zM684.0 341.2L692.8 347.6L689.5 358.0L678.5 358.0L675.2 347.6zM698.0 346.2L706.8 352.6L703.5 363.0L692.5 363.0L689.2 352.6zM712.0 350.7L720.8 357.1L717.5 367.5L706.5 367.5L703.2 357.1zM724.1 354.0L733.0 360.5L729.6 370.9L718.7 370.9L715.3 360.5zM737.6 358.5L746.5 364.9L743.1 375.3L732.2 375.3L728.8 364.9zM751.5 361.6L760.3 368.0L757.0 378.4L746.0 378.4L742.6 368.0zM765.3 363.2L774.2 369.6L770.8 380.0L759.9 380.0L756.5 369.6zM779.2 366.2L788.1 372.6L784.7 383.0L773.7 383.0L770.4 372.6zM793.1 367.9L801.9 374.3L798.5 384.7L787.6 384.7L784.2 374.3zM806.1 368.9L815.0 375.3L811.6 385.7L800.7 385.7L797.3 375.3zM817.8 370.1L826.6 376.5L823.2 386.9L812.3 386.9L808.9 376.5zM828.3 371.7L837.2 378.1L833.8 388.5L822.9 388.5L819.5 378.1zM837.5 372.6L846.3 379.0L842.9 389.4L832.0 389.4L828.6 379.0zM845.4 374.5L854.2 380.9L850.8 391.3L839.9 391.3L836.5 380.9zM852.5 376.2L861.4 382.6L858.0 393.0L847.1 393.0L843.7 382.6zM858.9 376.2L867.7 382.6L864.4 393.0L853.4 393.0L850.0 382.6zM864.9 378.7L873.8 385.1L870.4 395.5L859.5 395.5L856.1 385.1zM870.8 380.3L879.7 386.8L876.3 397.2L865.4 397.2L862.0 386.8zM876.5 381.8L885.3 388.2L881.9 398.6L871.0 398.6L867.6 388.2zM882.1 382.0L890.9 388.4L887.6 398.8L876.6 398.8L873.2 388.4zM888.1 383.6L896.9 390.0L893.5 400.4L882.6 400.4L879.2 390.0zM893.7 385.6L902.6 392.0L899.2 402.4L888.3 402.4L884.9 392.0zM899.3 387.4L908.2 393.8L904.8 404.2L893.9 404.2L890.5 393.8zM905.0 389.0L913.8 395.4L910.5 405.8L899.5 405.8L896.2 395.4zM911.0 391.3L919.8 397.7L916.5 408.1L905.5 408.1L902.2 397.7zM917.0 392.9L925.8 399.4L922.5 409.8L911.5 409.8L908.2 399.4zM923.0 393.5L931.8 400.0L928.5 410.4L917.5 410.4L914.2 400.0zM928.0 393.1L936.8 399.5L933.5 409.9L922.5 409.9L919.2 399.5zM932.5 393.6L941.3 400.1L938.0 410.5L927.0 410.5L923.6 400.1zM936.4 393.9L945.3 400.3L941.9 410.7L931.0 410.7L927.6 400.3zM939.9 392.0L948.7 398.5L945.4 408.9L934.4 408.9L931.1 398.5zM942.9 393.2L951.7 399.6L948.3 410.0L937.4 410.0L934.0 399.6zM945.9 393.5L954.7 400.0L951.3 410.4L940.4 410.4L937.0 400.0zM948.4 393.0L957.2 399.4L953.8 409.8L942.9 409.8L939.5 399.4zM950.9 392.7L959.7 399.1L956.4 409.5L945.4 409.5L942.0 399.1zM953.4 391.8L962.3 398.2L958.9 408.6L948.0 408.6L944.6 398.2zM956.0 390.8L964.8 397.3L961.4 407.7L950.5 407.7L947.1 397.3zM958.6 392.1L967.4 398.5L964.1 408.9L953.1 408.9L949.8 398.5zM960.8 390.7L969.7 397.2L966.3 407.6L955.4 407.6L952.0 397.2zM963.1 391.6L972.0 398.0L968.6 408.4L957.6 408.4L954.3 398.0zM965.4 391.8L974.3 398.2L970.9 408.6L960.0 408.6L956.6 398.2zM967.8 390.1L976.6 396.5L973.2 406.9L962.3 406.9L958.9 396.5zM970.1 389.9L978.9 396.3L975.5 406.7L964.6 406.7L961.2 396.3zM972.3 390.9L981.1 397.3L977.8 407.7L966.8 407.7L963.4 397.3zM974.9 390.1L983.8 396.5L980.4 406.9L969.5 406.9L966.1 396.5zM977.3 388.5L986.2 394.9L982.8 405.3L971.9 405.3L968.5 394.9zM979.8 388.1L988.7 394.5L985.3 404.9L974.3 404.9L971.0 394.5zM982.0 387.9L990.8 394.3L987.5 404.7L976.5 404.7L973.2 394.3zM982.0 388.7L990.8 395.1L987.5 405.5L976.5 405.5L973.2 395.1z" fill="none" stroke="#222" stroke-width="0.8" stroke-linejoin="miter"/>
<rect x="218.6" y="39.1" width="763.5" height="672.3" fill="none" stroke="#000" stroke-width="2.4"/>
<path d="M371.3 711.4V688.4M371.3 39.1V62.1M218.6 576.9H241.6M982.1 576.9H959.1M524.0 711.4V688.4M524.0 39.1V62.1M218.6 442.5H241.6M982.1 442.5H959.1M676.7 711.4V688.4M676.7 39.1V62.1M218.6 308.0H241.6M982.1 308.0H959.1M829.4 711.4V688.4M829.4 39.1V62.1M218.6 173.6H241.6M982.1 173.6H959.1" stroke="#000" stroke-width="2.2" fill="none"/>
<text transform="translate(195.5,730.6) scale(0.95,1)" font-size="68" text-anchor="end">0</text>
<text transform="translate(193.0,596.1) scale(0.95,1)" font-size="68" text-anchor="end">0.5</text>
<text transform="translate(195.5,461.7) scale(0.95,1)" font-size="68" text-anchor="end">1.0</text>
<text transform="translate(193.0,327.2) scale(0.95,1)" font-size="68" text-anchor="end">1.5</text>
<text transform="translate(195.5,192.8) scale(0.95,1)" font-size="68" text-anchor="end">2.0</text>
<text transform="translate(193.0,58.3) scale(0.95,1)" font-size="68" text-anchor="end">2.5</text>
<text transform="translate(218.6,787.5) scale(0.95,1)" font-size="68" text-anchor="middle">0</text>
<text transform="translate(371.3,787.5) scale(0.95,1)" font-size="68" text-anchor="middle">0.02</text>
<text transform="translate(524.0,787.5) scale(0.95,1)" font-size="68" text-anchor="middle">0.04</text>
<text transform="translate(676.7,787.5) scale(0.95,1)" font-size="68" text-anchor="middle">0.06</text>
<text transform="translate(829.4,787.5) scale(0.95,1)" font-size="68" text-anchor="middle">0.08</text>
<text transform="translate(982.1,787.5) scale(0.95,1)" font-size="68" text-anchor="middle">0.1</text>
<text transform="translate(486.2,852.2) scale(0.95,1)" font-size="68">Strain</text>
<text transform="translate(654.5,852.4) scale(1.11,1)" font-size="60">ε</text>
<text transform="translate(679.5,878.2) scale(0.95,1)" font-size="43" class="it">xx</text>
<text transform="translate(57.3,629.0) rotate(-90) scale(0.95,1)" font-size="68">Stress</text>
<text transform="translate(57.5,458.0) rotate(-90) scale(1.22,1)" font-size="56">σ</text>
<text transform="translate(82.0,424.0) rotate(-90) scale(0.95,1)" font-size="43" class="it">xx</text>
<text transform="translate(57.3,371.0) rotate(-90) scale(0.95,1)" font-size="68">(GPa)</text>
<line x1="353.2" y1="406.8" x2="473.8" y2="406.8" stroke="#000" stroke-width="3.1" stroke-linecap="round"/>
<rect x="404.6" y="397.9" width="17.8" height="17.8" fill="none" stroke="#000" stroke-width="1.2"/>
<text transform="translate(487.5,424.2) scale(0.95,1)" font-size="51">S</text>
<text transform="translate(513.5,443.9) scale(0.95,1)" font-size="31">d</text>
<text transform="translate(526.0,424.2) scale(0.963,1)" font-size="51">=0.002</text>
<line x1="353.2" y1="471.6" x2="473.8" y2="471.6" stroke="#000" stroke-width="3.1" stroke-linecap="round"/>
<circle cx="413.5" cy="471.6" r="9.8" fill="none" stroke="#000" stroke-width="1.8"/>
<text transform="translate(487.5,488.9) scale(0.95,1)" font-size="51">S</text>
<text transform="translate(513.5,508.7) scale(0.95,1)" font-size="31">d</text>
<text transform="translate(526.0,488.9) scale(0.963,1)" font-size="51">=0.004</text>
<line x1="353.2" y1="536.3" x2="473.8" y2="536.3" stroke="#000" stroke-width="3.1" stroke-linecap="round"/>
<polygon points="413.5,523.8 424.8,543.3 402.2,543.3" fill="none" stroke="#000" stroke-width="2.0"/>
<text transform="translate(487.5,553.7) scale(0.95,1)" font-size="51">S</text>
<text transform="translate(513.5,573.4) scale(0.95,1)" font-size="31">d</text>
<text transform="translate(526.0,553.7) scale(0.963,1)" font-size="51">=0.006</text>
<line x1="353.2" y1="601.0" x2="473.8" y2="601.0" stroke="#000" stroke-width="2.5" stroke-linecap="round"/>
<polygon points="413.5,590.2 422.9,595.6 422.9,606.4 413.5,611.8 404.1,606.4 404.1,595.6" fill="none" stroke="#000" stroke-width="1.6"/>
<text transform="translate(487.5,618.4) scale(0.95,1)" font-size="51">S</text>
<text transform="translate(513.5,638.1) scale(0.95,1)" font-size="31">d</text>
<text transform="translate(526.0,618.4) scale(0.963,1)" font-size="51">=0.008</text>
<line x1="353.2" y1="665.8" x2="473.8" y2="665.8" stroke="#000" stroke-width="2.5" stroke-linecap="round"/>
<polygon points="413.5,653.2 425.5,661.9 420.9,676.0 406.1,676.0 401.5,661.9" fill="none" stroke="#000" stroke-width="1.0"/>
<text transform="translate(487.5,683.2) scale(0.95,1)" font-size="51">S</text>
<text transform="translate(513.5,702.9) scale(0.95,1)" font-size="31">d</text>
<text transform="translate(526.0,683.2) scale(0.963,1)" font-size="51">=0.010</text>
</svg>
</body></html>
